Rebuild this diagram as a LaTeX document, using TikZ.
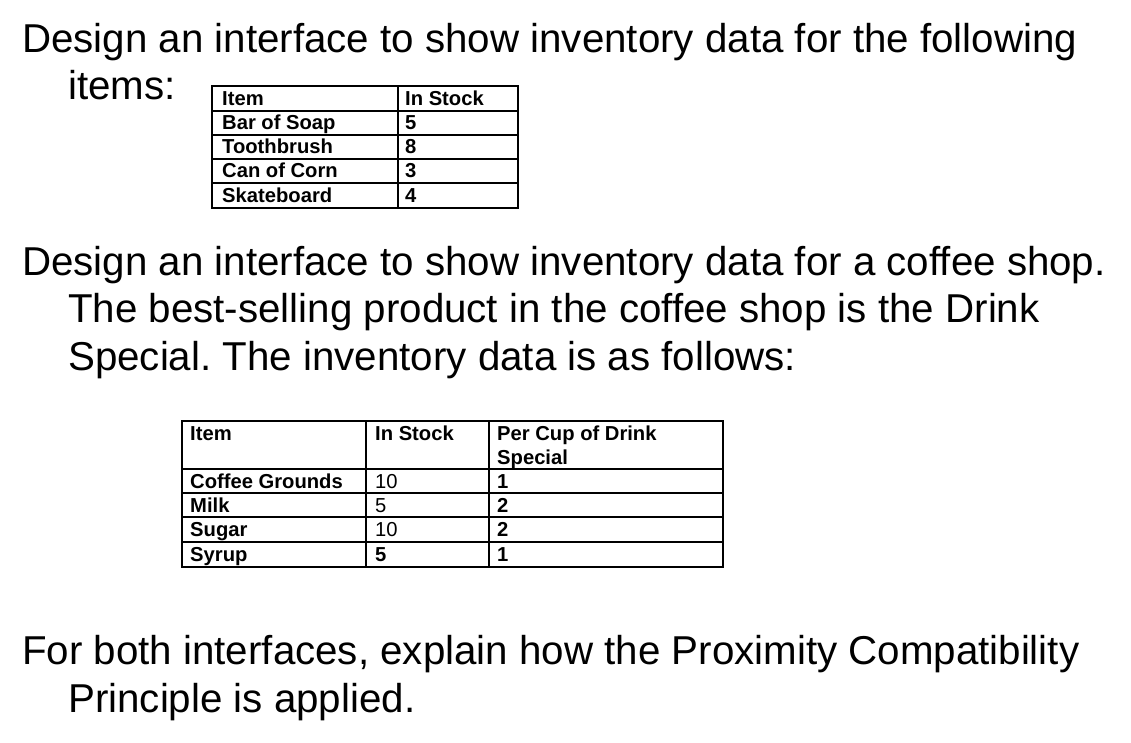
\documentclass[tikz,border=0pt]{standalone}
\usepackage{fontspec}
\setmainfont{Liberation Sans}
\frenchspacing
\begin{document}
\begin{tikzpicture}[x=1pt,y=-1pt,
  big/.style={anchor=base west,inner sep=0pt,font=\fontsize{40.3}{44}\selectfont},
  cell/.style={anchor=base west,inner sep=0pt,font=\fontsize{20.2}{22}\selectfont\bfseries},
  cellr/.style={anchor=base west,inner sep=0pt,font=\fontsize{20.2}{22}\selectfont},
  grid/.style={line width=1.2pt}]
\useasboundingbox (0,0) rectangle (1131,742);
\node[big] (l1) at (22,52) {Design an interface to show inventory data for the following};
\node[big] (l2) at (68,99) {items:};
\node[big] (l3) at (22,275) {Design an interface to show inventory data for a coffee shop.};
\node[big] (l4) at (68,322) {The best-selling product in the coffee shop is the Drink};
\node[big] (l5) at (68,370) {Special. The inventory data is as follows:};
\node[big] (l6) at (22,664) {For both interfaces, explain how the Proximity Compatibility};
\node[big] (l7) at (68,712) {Principle is applied.};
% table 1
\draw[grid] (212,86) rectangle (518,208);
\foreach \y in {111,135,159,183} \draw[grid] (212,\y) -- (518,\y);
\draw[grid] (398,86) -- (398,208);
\node[cell] (a1) at (222,105) {Item};
\node[cell] (a2) at (405,105) {In Stock};
\node[cell] (a3) at (222,129) {Bar of Soap};
\node[cell] (a4) at (405,129) {5};
\node[cell] (a5) at (222,153) {Toothbrush};
\node[cell] (a6) at (405,153) {8};
\node[cell] (a7) at (222,177) {Can of Corn};
\node[cell] (a8) at (405,177) {3};
\node[cell] (a9) at (222,202) {Skateboard};
\node[cell] (a10) at (405,202) {4};
% table 2
\draw[grid] (182,421) rectangle (723,567);
\foreach \y in {469,493,517,542} \draw[grid] (182,\y) -- (723,\y);
\draw[grid] (366,421) -- (366,567);
\draw[grid] (489,421) -- (489,567);
\node[cell] (b1) at (190,440) {Item};
\node[cell] (b2) at (375,440) {In Stock};
\node[cell] (b3) at (497,440) {Per Cup of Drink};
\node[cell] (b4) at (497,464) {Special};
\node[cell] (b5) at (190,488) {Coffee Grounds};
\node[cellr] (b6) at (375,488) {10};
\node[cell] (b7) at (497,488) {1};
\node[cell] (b8) at (190,512) {Milk};
\node[cellr] (b9) at (375,512) {5};
\node[cell] (b10) at (497,512) {2};
\node[cell] (b11) at (190,536) {Sugar};
\node[cellr] (b12) at (375,536) {10};
\node[cell] (b13) at (497,536) {2};
\node[cell] (b14) at (190,561) {Syrup};
\node[cell] (b15) at (375,561) {5};
\node[cell] (b16) at (497,561) {1};
\end{tikzpicture}
\end{document}
